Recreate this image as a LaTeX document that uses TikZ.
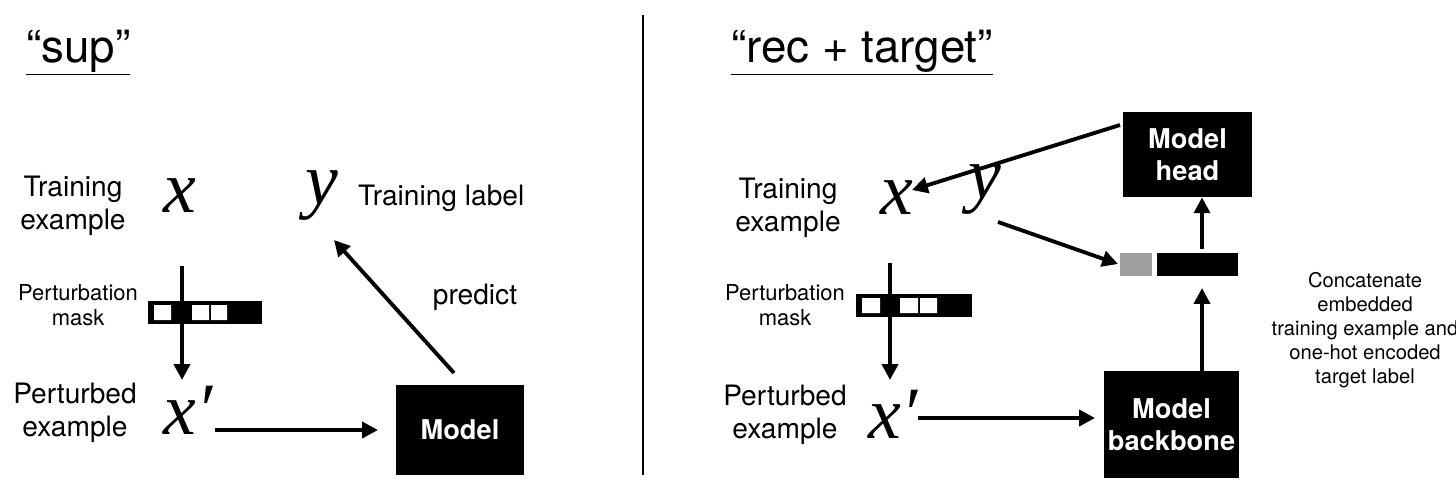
\documentclass[tikz,border=0pt]{standalone}
\usepackage{fontspec}
\setmainfont{TeX Gyre Heros}
\newfontfamily\vf{Liberation Serif}
\usetikzlibrary{arrows.meta}
\begin{document}
\begin{tikzpicture}[x=0.02cm,y=-0.02cm,
  lbl/.style={align=center,font=\fontsize{16}{19}\selectfont},
  small/.style={align=center,font=\fontsize{12.5}{14.5}\selectfont},
  var/.style={font=\vf\itshape\fontsize{42}{42}\selectfont},
  title/.style={font=\fontsize{26}{28}\selectfont,anchor=base west},
  box/.style={fill=black,text=white,font=\bfseries\fontsize{15.5}{18}\selectfont,align=center,inner sep=0pt},
  arr/.style={line width=2.2pt,-{Triangle[length=9pt,width=9pt]}},
  ln/.style={line width=2.2pt}]
\useasboundingbox (0,0) rectangle (1456,494);
% titles
\node[title] (t1) at (20,62) {\underline{“sup”}};
\node[title] (t2) at (725,62) {\underline{“rec + target”}};
\draw[line width=0.6pt] (643,15) coordinate (d1) -- (643,475) coordinate (d2);
% ---- left ----
\node[lbl] (te1) at (73,206) {Training\\example};
\node[var] (x1) at (180,196) {x};
\node[var] (y1) at (322,196) {y};
\node[lbl,anchor=west] (tl) at (352,198) {Training label};
\node[small] (pm1) at (78,305) {Perturbation\\mask};
\node[lbl] (pe1) at (75,413) {Perturbed\\example};
\node[var] (xp1) at (188,410) {x′};
\node[box,minimum width=128*0.02cm,minimum height=90*0.02cm] (m1) at (460,430) {Model};
\node[lbl] (pr) at (475,297) {predict};
\fill (148,301) rectangle (262,324);
\fill[white] (154,305) rectangle (171,320) (192,305) rectangle (209,320) (211,305) rectangle (227,320);
\coordinate (a1) at (182,266);
\coordinate (a2) at (182,380);
\draw[arr] (a1) -- (a2);
\draw[arr] (215,430) coordinate (s1) -- (378,430) coordinate (e1);
\draw[arr] (454,373) coordinate (s2) -- (334,240) coordinate (e2);
% ---- right ----
\node[lbl] (te2) at (788,208) {Training\\example};
\node[var] (x2) at (897,198) {x};
\node[var] (y2) at (985,190) {y};
\node[small] (pm2) at (785,305) {Perturbation\\mask};
\node[lbl] (pe2) at (785,415) {Perturbed\\example};
\node[var] (xp2) at (893,414) {x′};
\node[box,minimum width=129*0.02cm,minimum height=85*0.02cm] (mh) at (1187.5,154.5) {Model\\head};
\node[box,minimum width=135*0.02cm,minimum height=107*0.02cm] (mb) at (1171.5,424.5) {Model\\backbone};
\node[align=center,font=\fontsize{11.5}{13.7}\selectfont] (cc) at (1365,330) {Concatenate\\embedded\\training example and\\one-hot encoded\\target label};
\fill (856,294) rectangle (972,317);
\fill[white] (862,298) rectangle (880,313) (900,298) rectangle (918,313) (920,298) rectangle (937,313);
\fill[gray!75] (1120,253) rectangle (1152,276);
\fill (1157,253) rectangle (1238,276);
\coordinate (c1) at (1118,264);
\coordinate (c3) at (1202,288);
\draw[arr] (890,263) coordinate (a3) -- (890,380) coordinate (a4);
\draw[arr] (918,418) coordinate (s3) -- (1095,418) coordinate (e3);
\draw[arr] (1120,125) coordinate (s4) -- (912,190) coordinate (e4);
\draw[arr] (998,222) coordinate (s5) -- (c1);
\draw[arr] (1202,249) coordinate (s6) -- (mh.south -| 1202,0);
\draw[arr] (mb.north -| 1202,0) -- (c3);
\end{tikzpicture}
\end{document}
